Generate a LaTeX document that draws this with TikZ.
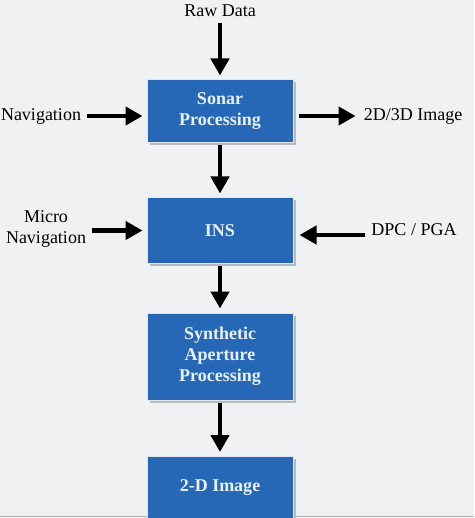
\documentclass[tikz,border=0pt]{standalone}
\usepackage{fontspec}
\setmainfont{Liberation Serif}
\usepackage{tikz}
\usetikzlibrary{arrows.meta,shadows}

\definecolor{boxblue}{RGB}{38,104,182}
\definecolor{boxtext}{RGB}{232,240,250}
\definecolor{paper}{RGB}{240,241,242}

\tikzset{
  procbox/.style={fill=boxblue, draw=white!85!boxblue, line width=1pt,
    minimum width=146pt, align=center, inner sep=0pt,
    text=boxtext, font=\fontsize{18}{21}\selectfont\bfseries,
    drop shadow={shadow xshift=2.5pt, shadow yshift=-2.5pt, fill=gray!55, opacity=1}},
  outlabel/.style={align=center, inner sep=4pt, font=\fontsize{18}{21}\selectfont},
  flow/.style={line width=4.5pt, -{Triangle[length=17pt,width=18pt]}, shorten <=2pt, shorten >=4pt}
}

\begin{document}
\begin{tikzpicture}[x=1pt, y=-1pt]

\useasboundingbox (0,0) rectangle (474,518);
\fill[paper] (0,0) rectangle (474,518);
\draw[gray!60, line width=1pt] (0,516) -- (474,516);

\node[procbox, minimum height=63pt] (sonar) at (220,111.5) {Sonar\\Processing};
\node[procbox, minimum height=65pt] (ins) at (220,230.5) {INS};
\node[procbox, minimum height=87pt] (sap) at (220,356.5) {Synthetic\\Aperture\\Processing};
\node[procbox, minimum height=63pt] (img) at (220,488) {2-D Image};

\node[outlabel] (raw) at (220,11) {Raw Data};
\node[outlabel] (nav) at (41,116) {Navigation};
\node[outlabel] (out) at (413,116) {2D/3D Image};
\node[outlabel] (micro) at (46,229) {Micro\\Navigation};
\node[outlabel] (dpc) at (414,230) {DPC / PGA};

\draw[flow] (raw) -- (sonar);
\draw[flow] (nav.east) -- (nav.east -| sonar.west);
\draw[flow, shorten <=5pt] (nav.east -| sonar.east) -- (out.west);
\draw[flow] (sonar) -- (ins);
\draw[flow] (micro.east |- ins.west) -- (ins.west);
\draw[flow, shorten >=6pt] (dpc.west |- 0,235) -- (ins.east |- 0,235);
\draw[flow] (ins) -- (sap);
\draw[flow] (sap) -- (img);

\end{tikzpicture}
\end{document}
